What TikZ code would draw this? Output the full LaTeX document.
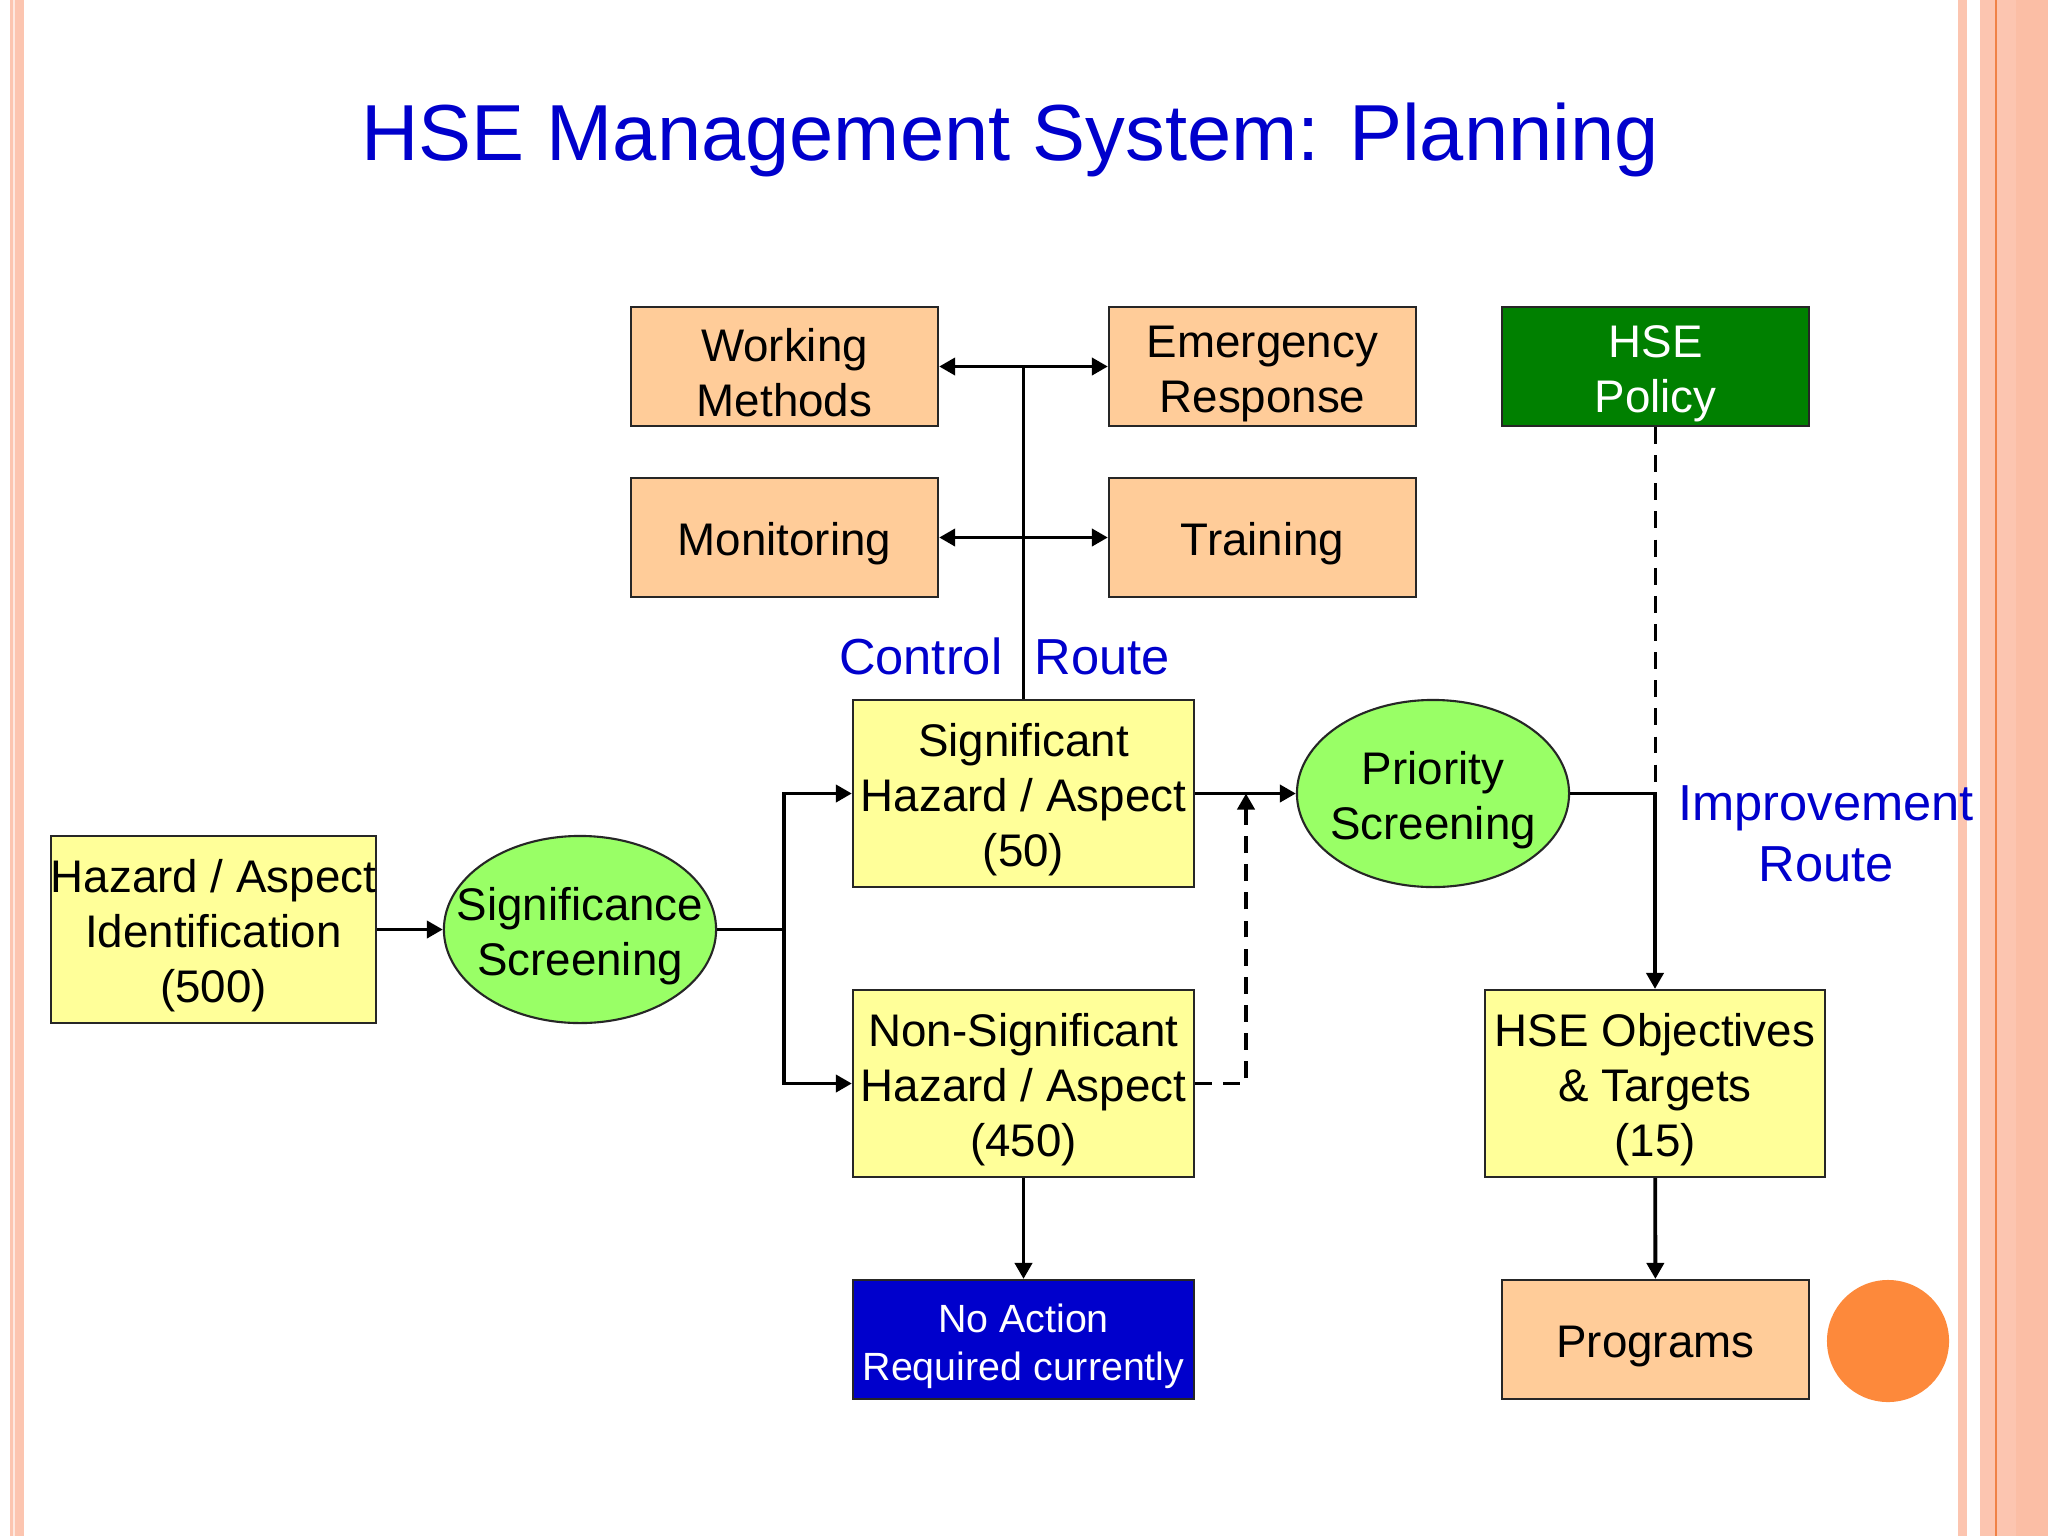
\documentclass[tikz,border=0pt]{standalone}
\usepackage{fontspec}
\setmainfont{Liberation Sans}
\usetikzlibrary{arrows.meta,shapes.geometric,positioning}
\definecolor{boxorange}{RGB}{255,204,153}
\definecolor{boxyellow}{RGB}{255,255,153}
\definecolor{screengreen}{RGB}{153,255,102}
\definecolor{policygreen}{RGB}{0,128,0}
\definecolor{noactblue}{RGB}{0,0,204}
\definecolor{routeblue}{RGB}{0,0,204}
\definecolor{stripe}{RGB}{252,197,176}
\definecolor{stripedark}{RGB}{251,190,165}
\definecolor{stripeline}{RGB}{240,130,70}
\definecolor{dotorange}{RGB}{253,137,59}
\newcommand{\lift}{\rule{0pt}{13pt}}
\newcommand{\liftsmall}{\rule{0pt}{11.9pt}}

\begin{document}
\begin{tikzpicture}[x=0.01cm,y=-0.01cm]
\tikzstyle{every node}=[font=\fontsize{13}{15.6}\selectfont]
\tikzstyle{pbox}=[rectangle,draw=black!85,line width=0.6pt,fill=boxorange,minimum width=3.07cm,minimum height=1.19cm,inner sep=0pt,align=center]
\tikzstyle{ybox}=[pbox,fill=boxyellow,minimum width=3.41cm,minimum height=1.87cm]
\tikzstyle{screen}=[ellipse,draw=black!85,line width=0.6pt,fill=screengreen,minimum width=2.72cm,minimum height=1.87cm,inner xsep=-0.27cm,inner ysep=0pt,align=center]
\tikzstyle{route}=[font=\fontsize{14.4}{17.4}\selectfont,text=routeblue,inner sep=0pt,align=center]
\tikzstyle{link}=[line width=1.1pt,-{Triangle[length=1.6mm,width=1.7mm]}]
\tikzstyle{twolink}=[link,{Triangle[length=1.6mm,width=1.7mm]}-{Triangle[length=1.6mm,width=1.7mm]}]
\tikzstyle{dashlink}=[link,dash pattern=on 4.8pt off 3.2pt]

% page and side stripes
\useasboundingbox (0,0) rectangle (2048,1536);
\fill[white] (0,0) rectangle (2048,1536);
\fill[stripe] (10,0) rectangle (24,1536);
\fill[white!60!stripe] (13,0) rectangle (15,1536);
\fill[stripe] (1958,0) rectangle (1967,1536);
\fill[stripe] (1980,0) rectangle (2048,1536);
\fill[stripedark] (2016,0) rectangle (2048,1536);
\fill[stripeline] (1995,0) rectangle (1997,1536);

\node[font=\fontsize{22.6}{27}\selectfont,text=routeblue,anchor=base] (title) at (1010,160) {HSE Management System: Planning};

% control boxes
\node[pbox] (wm) at (784.5,366.5) {\lift Working\\Methods};
\node[pbox] (er) at (1262.5,366.5) {\lift Emergency\\Response};
\node[pbox] (mon) at (784.5,537.5) {\lift Monitoring};
\node[pbox] (trn) at (1262.5,537.5) {\lift Training};
\node[pbox,fill=policygreen,text=white] (pol) at (1655.5,366.5) {\lift HSE\\Policy};

% main flow
\node[ybox,minimum width=3.23cm] (hid) at (213.5,929.5) {\lift Hazard / Aspect\\Identification\\(500)};
\node[screen] (ss) at (580,929.5) {\lift Significance\\Screening};
\node[ybox] (sig) at (1023.5,793.5) {\lift Significant\\Hazard / Aspect\\(50)};
\node[ybox] (nsig) at (1023.5,1083.5) {\lift Non-Significant\\Hazard / Aspect\\(450)};
\node[pbox,minimum width=3.41cm,fill=noactblue,text=white,font=\fontsize{11.2}{13.7}\selectfont] (noact) at (1023.5,1339.5) {\liftsmall No Action\\Required currently};
\node[screen] (ps) at (1433,793.5) {\lift Priority\\Screening};
\node[ybox,minimum width=3.40cm] (obj) at (1655,1083.5) {\lift HSE Objectives\\\& Targets\\(15)};
\node[pbox] (prog) at (1655.5,1339.5) {\lift Programs};
\fill[dotorange] (1888,1341) circle (0.61cm);

% labels
\node[route,anchor=base east] (ctl) at (1003,674) {Control};
\node[route,anchor=base west] (rte) at (1034,674) {Route};
\node[route] (imp) at (1826,834) {Improvement\\Route};

% connectors
\coordinate (split) at (784,929.5);
\coordinate (dashup) at (1246,793.5);
\draw[line width=1.1pt] (sig.north) -- (sig.north |- wm.east);
\draw[twolink] (wm) -- (er);
\draw[twolink] (mon) -- (trn);
\draw[link] (hid) -- (ss);
\draw[line width=1.1pt] (ss.east) -- (split);
\draw[link] (split) |- (sig.west);
\draw[link] (split) |- (nsig.west);
\draw[link] (sig) -- (ps);
\draw[dashlink] (nsig.east) -| (dashup);
\draw[link] (nsig) -- (noact);
\draw[link] (ps.east) -| (obj.north);
\draw[line width=1.1pt,dash pattern=on 4.8pt off 3.2pt] (pol.south) -- ([yshift=3pt]pol.south |- ps.east);
\draw[link] (obj) -- (prog);
\end{tikzpicture}
\end{document}
